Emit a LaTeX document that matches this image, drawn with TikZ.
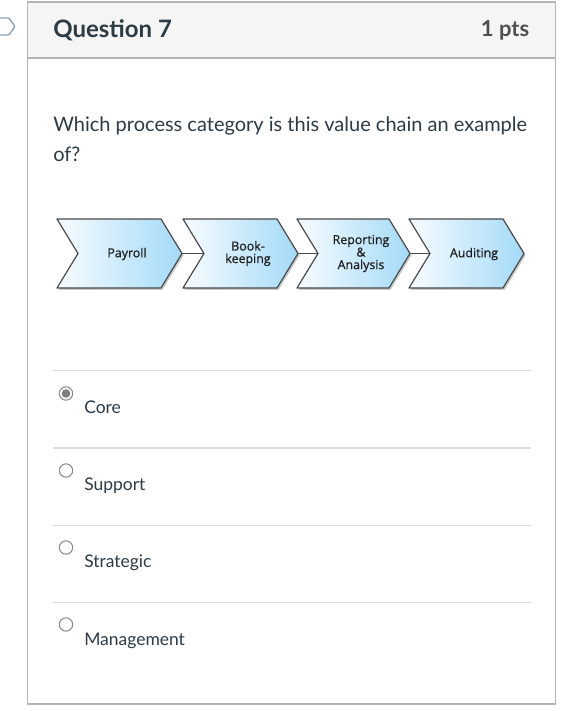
\documentclass[tikz,border=0pt]{standalone}
\usepackage{fontspec}
\setmainfont{Lato}
\newfontfamily\chevfont[FakeBold=0.7]{Open Sans}
\usetikzlibrary{shadows}

\definecolor{canvastext}{HTML}{2D3B45}
\definecolor{headgray}{HTML}{F5F5F5}
\definecolor{panelline}{HTML}{B4B4B4}
\definecolor{ruleline}{HTML}{DDDDDD}
\definecolor{chevblue}{HTML}{A3DAF8}
\definecolor{chevwhite}{HTML}{F8FCFF}
\definecolor{chevedge}{HTML}{4A4A4A}
\definecolor{radiogray}{HTML}{8C8C8C}
\definecolor{pointsgray}{HTML}{4F4F4F}
\definecolor{navgray}{HTML}{8FA6B8}

\tikzset{
  chevron/.style={draw=chevedge, line width=0.9pt, left color=chevwhite, right color=chevblue,
    drop shadow={shadow xshift=1.2pt, shadow yshift=-1.4pt, fill=black!35, opacity=0.6}},
  chevlabel/.style={font=\chevfont\fontsize{9.3}{9.4}\selectfont, text=black!88, align=center, inner sep=0pt},
  linkline/.style={draw=chevedge, line width=1.3pt},
  radio/.style={circle, draw=radiogray, line width=0.8pt, fill=white, minimum size=10pt, inner sep=0pt},
  answer/.style={anchor=base west, font=\fontsize{13.1}{15}\selectfont, text=canvastext, inner sep=0pt},
}

\begin{document}
\begin{tikzpicture}[x=0.75pt, y=-0.75pt, line join=round]
% tikz code here
  \useasboundingbox (0,0) rectangle (585,711);
  \draw [panelline, fill=white, line width=0.9pt] (27.5,2) rectangle (555.5,704);
  \draw [panelline, fill=headgray, line width=0.9pt] (27.5,2) rectangle (555.5,58);
  \draw [navgray, line width=1.1pt, rounded corners=1pt] (-3,18) -- (9,18) -- (15,26.5) -- (9,35) -- (-3,35);
  \node [anchor=base west, inner sep=0pt, text=canvastext, font=\bfseries\fontsize{18}{20}\selectfont] (title) at (53,37.3) {Question 7};
  \node [anchor=base east, inner sep=0pt, text=pointsgray, font=\bfseries\fontsize{16.5}{20}\selectfont] (points) at (529.5,36.3) {1 pts};
  \node [anchor=base west, inner sep=0pt, text=canvastext, align=left, font=\fontsize{15}{22.5}\selectfont] (question) at (53,161.7)
        {Which process category is this value chain an example\\of?};

  % value chain
  \path [chevron] (57,219) -- (161,219) -- (182,253.5) -- (161,288) -- (57,288) -- (78,253.5) -- cycle;
  \path [chevron] (183,219) -- (277,219) -- (298,253.5) -- (277,288) -- (183,288) -- (204,253.5) -- cycle;
  \path [chevron] (297,219) -- (389,219) -- (410,253.5) -- (389,288) -- (297,288) -- (318,253.5) -- cycle;
  \path [chevron] (409,219) -- (503,219) -- (524,253.5) -- (503,288) -- (409,288) -- (430,253.5) -- cycle;
  \coordinate (payroll tip) at (182,253.5);
  \coordinate (book notch) at (204,253.5);
  \coordinate (book tip) at (298,253.5);
  \coordinate (report notch) at (318,253.5);
  \coordinate (report tip) at (410,253.5);
  \coordinate (audit notch) at (430,253.5);
  \draw [linkline] (payroll tip) -- (book notch);
  \draw [linkline] (book tip) -- (report notch);
  \draw [linkline] (report tip) -- (audit notch);
  \node [chevlabel] (payroll) at (127,254) {Payroll};
  \node [chevlabel] (bookkeeping) at (248,253.5) {Book-\\keeping};
  \node [chevlabel] (reporting) at (361,253.5) {Reporting\\\&\\Analysis};
  \node [chevlabel] (auditing) at (474,254) {Auditing};

  % answers
  \draw [ruleline, line width=0.9pt] (53,370.5) -- (531,370.5);
  \draw [ruleline, line width=0.9pt] (53,448) -- (531,448);
  \draw [ruleline, line width=0.9pt] (53,525.5) -- (531,525.5);
  \draw [ruleline, line width=0.9pt] (53,602.5) -- (531,602.5);
  \node [radio] (core radio) at (66,393.5) {};
  \fill [radiogray!90!black] (core radio.center) circle (4.3);
  \node [radio] (support radio) at (66,470.5) {};
  \node [radio] (strategic radio) at (66,547.5) {};
  \node [radio] (management radio) at (66,624.5) {};
  \node [answer] (core) at (84,413.3) {Core};
  \node [answer] (support) at (84,490.5) {Support};
  \node [answer] (strategic) at (84,567.8) {Strategic};
  \node [answer] (management) at (84,645) {Management};
\end{tikzpicture}
\end{document}
